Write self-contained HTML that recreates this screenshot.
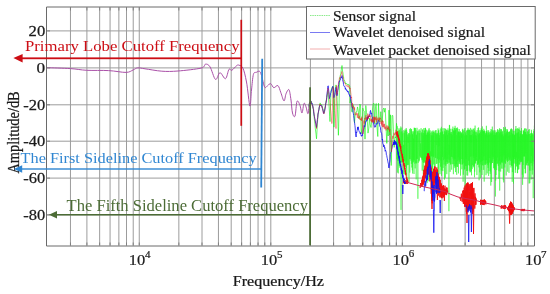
<!DOCTYPE html>
<html><head><meta charset="utf-8"><style>
html,body{margin:0;padding:0;background:#fff;width:550px;height:294px;overflow:hidden}
svg{display:block}
text{font-family:"Liberation Serif","Times New Roman",serif}
</style></head><body>
<svg width="550" height="294" viewBox="0 0 550 294">
<rect x="0" y="0" width="550" height="294" fill="#fff"/>
<g stroke="#9c9c9c" stroke-width="1" fill="none"><line x1="70.46" y1="7" x2="70.46" y2="245.5"/><line x1="86.9" y1="7" x2="86.9" y2="245.5"/><line x1="99.65" y1="7" x2="99.65" y2="245.5"/><line x1="110.07" y1="7" x2="110.07" y2="245.5"/><line x1="118.87" y1="7" x2="118.87" y2="245.5"/><line x1="126.5" y1="7" x2="126.5" y2="245.5"/><line x1="133.23" y1="7" x2="133.23" y2="245.5"/><line x1="139.25" y1="7" x2="139.25" y2="245.5"/><line x1="178.85" y1="7" x2="178.85" y2="245.5"/><line x1="202.01" y1="7" x2="202.01" y2="245.5"/><line x1="218.45" y1="7" x2="218.45" y2="245.5"/><line x1="231.2" y1="7" x2="231.2" y2="245.5"/><line x1="241.62" y1="7" x2="241.62" y2="245.5"/><line x1="250.42" y1="7" x2="250.42" y2="245.5"/><line x1="258.05" y1="7" x2="258.05" y2="245.5"/><line x1="264.78" y1="7" x2="264.78" y2="245.5"/><line x1="270.8" y1="7" x2="270.8" y2="245.5"/><line x1="310.4" y1="7" x2="310.4" y2="245.5"/><line x1="333.57" y1="7" x2="333.57" y2="245.5"/><line x1="350.0" y1="7" x2="350.0" y2="245.5"/><line x1="362.75" y1="7" x2="362.75" y2="245.5"/><line x1="373.17" y1="7" x2="373.17" y2="245.5"/><line x1="381.97" y1="7" x2="381.97" y2="245.5"/><line x1="389.6" y1="7" x2="389.6" y2="245.5"/><line x1="396.33" y1="7" x2="396.33" y2="245.5"/><line x1="402.35" y1="7" x2="402.35" y2="245.5"/><line x1="441.95" y1="7" x2="441.95" y2="245.5"/><line x1="465.12" y1="7" x2="465.12" y2="245.5"/><line x1="481.55" y1="7" x2="481.55" y2="245.5"/><line x1="494.3" y1="7" x2="494.3" y2="245.5"/><line x1="504.72" y1="7" x2="504.72" y2="245.5"/><line x1="513.52" y1="7" x2="513.52" y2="245.5"/><line x1="521.15" y1="7" x2="521.15" y2="245.5"/><line x1="527.88" y1="7" x2="527.88" y2="245.5"/><line x1="47.3" y1="30.9" x2="533.9" y2="30.9"/><line x1="47.3" y1="67.9" x2="533.9" y2="67.9"/><line x1="47.3" y1="104.8" x2="533.9" y2="104.8"/><line x1="47.3" y1="141.2" x2="533.9" y2="141.2"/><line x1="47.3" y1="178.1" x2="533.9" y2="178.1"/><line x1="47.3" y1="214.9" x2="533.9" y2="214.9"/></g>
<g fill="none" stroke-linejoin="round" stroke-width="0.9">
<path d="M309 107.1 L309.3 103.9 L309.6 102.7 L309.9 102.7 L310.2 102.8 L310.5 101.7 L310.8 101.4 L311.1 101 L311.4 103.1 L311.7 102.6 L312 103.4 L312.3 105 L312.6 105.7 L312.9 106.8 L313.2 108.3 L313.5 111.8 L313.8 113.5 L314.1 116.5 L314.4 119.9 L314.7 121.8 L315 124.9 L315.3 128.3 L315.6 131 L315.9 133.1 L316.2 135.7 L316.5 138.8 L316.8 134.4 L317.1 128.8 L317.4 123.4 L317.7 119.3 L318 114.1 L318.3 113 L318.6 111.4 L318.9 109.7 L319.2 107.3 L319.5 106.2 L319.8 103.8 L320.1 102.9 L320.4 103.4 L320.7 104.7 L321 105.1 L321.3 104.5 L321.6 105.2 L321.9 105.6 L322.2 106.5 L322.5 107.6 L322.8 108.6 L323.1 109.4 L323.4 111 L323.7 112.4 L324 113.1 L324.3 111.9 L324.6 109.7 L324.9 107.4 L325.2 106.7 L325.5 105.2 L325.8 102.6 L326.1 100.5 L326.4 99.6 L326.7 97.9 L327 96.1 L327.3 94.9 L327.6 92.6 L327.9 91.1 L328.2 92.4 L328.5 97.8 L328.8 102.9 L329.1 106.4 L329.4 111 L329.7 116.7 L330 121.6 L330.3 111 L330.6 102.6 L330.9 92.5 L331.2 90 L331.5 89.2 L331.8 88 L332.1 87.4 L332.4 87.6 L332.7 86.6 L333 86.4 L333.3 99.3 L333.6 112.7 L333.9 127.2 L334.2 123.1 L334.5 110.5 L334.8 98.3 L335.1 89.9 L335.4 88.3 L335.7 87.2 L336 84.9 L336.3 88.2 L336.6 90.7 L336.9 93.7 L337.2 100.4 L337.5 109.2 L337.8 118.1 L338.1 127 L338.4 135.3 L338.7 126.4 L339 109.3 L339.3 92.1 L339.6 79.3 L339.9 77.7 L340.2 75.7 L340.5 75.1 L340.8 73.9 L341.1 71.2 L341.4 68.9 L341.7 67 L342 65.5 L342.3 67.8 L342.6 71.4 L342.9 72.5 L343.2 74.9 L343.5 76.4 L343.8 79 L344.1 80.6 L344.4 80.3 L344.7 80.7 L345 81.9 L345.3 82.7 L345.6 83.9 L345.9 83.1 L346.2 83.4 L346.5 83.7 L346.8 83.8 L347.1 83.9 L347.4 84.8 L347.7 84.7 L348 84.2 L348.3 84.3 L348.6 84.5 L348.9 84.4 L349.2 85.8 L349.5 85.7 L349.8 86.7 L350 102.9 L350.8 99.5 L351.5 110.8 L352.2 112.1 L353 104.5 L353.8 107.5 L354.5 123 L355.2 114 L356 111.9 L356.8 111.8 L357.5 106.9 L358.2 110.2 L359 118.9 L359.8 104 L360.5 105.1 L361.2 133.7 L362 127.9 L362.8 108.1 L363.5 110.5 L364.2 111.1 L365 139.1 L365.8 105.5 L366.5 112.5 L367.2 117.7 L368 133.1 L368.8 128.1 L369.5 118.2 L370.2 124.9 L371 127.5 L371.8 120.7 L372.5 109 L373.2 103.6 L374 103.3 L374.8 124.1 L375.5 106.6 L376.2 103.5 L377 126.8 L377.8 136.5 L378.5 103.3 L379.2 118.3 L380 122 L380.8 111.7 L381.5 120.2 L382.2 122 L383 109.4 L383.8 108.1 L384.5 112.2 L385.2 108.2 L386 126.3 L386.8 143.4 L387.5 127.8 L388.2 136 L389 110.1 L389.8 135 L390.5 114.8 L391.2 165.5 L392 115.5 L392.8 115.6 L393.5 131.3 L394.2 147.4 L395 136.7 L395.8 138 L396.5 123.3 L397.2 129.1" stroke="#0af50a" stroke-width="0.6"/>
<path d="M396.5 133 L396.7 154.1 L396.9 159.3 L397.1 126.1 L397.3 172.6 L397.5 152.2 L397.7 132.6 L397.9 161 L398.1 133.4 L398.3 173.4 L398.5 130.6 L398.7 158.4 L398.9 128.4 L399.1 142.3 L399.3 165.7 L399.5 130.2 L399.6 164.2 L399.8 167.7 L400 152.1 L400.2 128.4 L400.4 137.7 L400.6 163 L400.8 126.5 L401 209.9 L401.2 131.7 L401.4 161.9 L401.6 129 L401.8 127.6 L402 162.8" stroke="#27f627" stroke-width="0.5"/><path d="M402 162.8 L402.1 131.1 L402.3 160.6 L402.5 134.2 L402.7 160.1 L402.9 132.7 L403.1 147.8 L403.3 161.6 L403.5 144.8 L403.7 174.5 L403.8 130.2 L404 141.3 L404.2 174.4 L404.4 132.8 L404.6 161.1 L404.8 130.9 L405 162.9 L405.1 129.3 L405.3 156.7 L405.5 166.7 L405.7 130.3 L405.9 137.6 L406.1 174.5 L406.2 128 L406.4 168 L406.6 129.7 L406.8 181 L407 131.8 L407.2 165 L407.3 134.6 L407.5 147.5 L407.7 165.2 L407.9 136.8" stroke="#27f627" stroke-width="0.5"/><path d="M407.9 136.8 L408.1 143 L408.2 134.3 L408.4 137.1 L408.6 164.8 L408.8 133.2 L409 181.9 L409.1 133 L409.3 146.6 L409.5 159.1 L409.7 128.9 L409.8 172.6 L410 134.6 L410.2 159 L410.4 155.2 L410.6 128.2 L410.7 146.5 L410.9 160.7 L411.1 129.5 L411.3 132.9 L411.4 163.9 L411.6 129 L411.8 167.5 L412 163.5 L412.1 131.5 L412.3 170.3 L412.5 133.8 L412.6 173.5 L412.8 135.1 L413 162.6 L413.2 131 L413.3 159.8 L413.5 138.6 L413.7 161.8 L413.8 132.3" stroke="#27f627" stroke-width="0.5"/><path d="M413.8 132.3 L414 174 L414.2 127.7 L414.4 160.4 L414.5 128.1 L414.7 151.4 L414.9 163.8 L415 127.9 L415.2 168.4 L415.4 128.2 L415.5 136.1 L415.7 162.9 L415.9 159.8 L416 130.4 L416.2 179.4 L416.4 135.4 L416.5 163.4 L416.7 134.6 L416.9 159 L417 127.8 L417.2 158.9 L417.4 158.5 L417.5 131.2 L417.7 143.5 L417.9 198.8 L418 132.7 L418.2 162.9 L418.3 152.3 L418.5 147.3 L418.7 130.6 L418.8 137.8 L419 161.5 L419.2 129.3 L419.3 160.5 L419.5 155.7 L419.6 137.4 L419.8 133.1 L420 156.2" stroke="#27f627" stroke-width="0.5"/><path d="M420 156.2 L420.1 130.7 L420.3 157 L420.4 157.5 L420.6 143.4 L420.8 157.4 L420.9 130.3 L421.1 128.2 L421.2 142.1 L421.4 149.5 L421.6 158.4 L421.7 132.3 L421.9 160.2 L422 133.2 L422.2 170.7 L422.3 129.8 L422.5 159.9 L422.7 138.2 L422.8 129.3 L423 162.3 L423.1 135.4 L423.3 174.7 L423.5 132.9 L423.6 162.9 L423.8 161.4 L423.9 128 L424.1 161 L424.2 130.8 L424.4 162.7 L424.6 130.3 L424.7 161.8 L424.9 133.2 L425 159.6 L425.2 128 L425.3 167.5 L425.5 127.8 L425.7 177.1 L425.8 129.1 L426 175.3" stroke="#27f627" stroke-width="0.5"/><path d="M426 175.3 L426.1 135.1 L426.3 153.7 L426.4 160.2 L426.6 134.6 L426.7 168.6 L426.9 130 L427.1 183.1 L427.2 133 L427.4 161.4 L427.5 131.5 L427.7 170 L427.8 135.3 L428 164.9 L428.1 133.1 L428.3 181.2 L428.4 131.5 L428.6 158.9 L428.8 129.5 L428.9 157.8 L429.1 128.1 L429.2 163 L429.4 133.8 L429.5 164.7 L429.7 131.6 L429.8 134 L430 164 L430.1 130.3 L430.3 162 L430.4 151.4 L430.6 170 L430.8 160.4 L430.9 132.9 L431.1 156.1 L431.2 135.3 L431.4 166.7 L431.5 135.1 L431.7 131.5 L431.8 156.4 L432 135.5" stroke="#27f627" stroke-width="0.5"/><path d="M432 135.5 L432.1 156.3 L432.3 130.6 L432.4 173.4 L432.6 132.5 L432.7 167.3 L432.9 168.7 L433 135.2 L433.2 135.1 L433.3 157.2 L433.5 132.1 L433.6 164.4 L433.8 130.5 L433.9 156.6 L434.1 141.5 L434.2 131.5 L434.4 137.4 L434.5 148.2 L434.7 166.3 L434.8 132.9 L435 165.4 L435.1 167.8 L435.3 133.4 L435.4 157.7 L435.6 130.5 L435.7 141.5 L435.9 158.1 L436 130 L436.2 133.9 L436.3 164 L436.5 159.1 L436.6 133.5 L436.8 145.1 L436.9 134.9 L437.1 163.6 L437.2 132.9 L437.4 143.6 L437.5 158.8 L437.7 142 L437.8 133.5 L438 168.7" stroke="#27f627" stroke-width="0.5"/><path d="M438 168.7 L438.1 128.5 L438.3 160.3 L438.4 130.8 L438.6 175.2 L438.7 130.2 L438.9 133.8 L439 146.1 L439.2 138 L439.3 162.8 L439.4 135.2 L439.6 159.6 L439.7 135.3 L439.9 132.8 L440 174.2 L440.2 153.7 L440.3 128.5 L440.5 156.1 L440.6 166.7 L440.8 132.4 L440.9 160.5 L441.1 132.4 L441.2 170.4 L441.4 126.8 L441.5 175.8 L441.6 128.6 L441.8 148.5 L441.9 170.4 L442.1 161.4 L442.2 149.3 L442.4 132.1 L442.5 156.9 L442.7 131.3 L442.8 171.1 L443 128.2 L443.1 167.9 L443.2 134.5 L443.4 150.7 L443.5 160.2 L443.7 157 L443.8 134.6 L444 134.1" stroke="#27f627" stroke-width="0.5"/><path d="M444 134.1 L444.1 164.5 L444.3 128.2 L444.4 137.6 L444.5 179.6 L444.7 131.1 L444.8 159.2 L445 132.5 L445.1 157.3 L445.3 128.7 L445.4 177.8 L445.5 135.6 L445.7 165.8 L445.8 128.8 L446 164.2 L446.1 131.7 L446.3 142.9 L446.4 161.8 L446.5 129.9 L446.7 155.6 L446.8 174.2 L447 131.2 L447.1 158.8 L447.3 130 L447.4 163.9 L447.5 134.8 L447.7 159.4 L447.8 162.3 L448 128.4 L448.1 133 L448.2 163.2 L448.4 134.8 L448.5 130.5 L448.7 159.6 L448.8 133 L448.9 211.2 L449.1 144.8 L449.2 154.6 L449.4 124.9 L449.5 162.6 L449.6 125.3 L449.8 159.9 L449.9 129" stroke="#27f627" stroke-width="0.5"/><path d="M449.9 129 L450.1 171.9 L450.2 133.5 L450.3 134.3 L450.5 164.6 L450.6 164 L450.8 132 L450.9 163.9 L451 128.7 L451.2 156.9 L451.3 133.9 L451.5 156.5 L451.6 132.1 L451.7 169.7 L451.9 135.6 L452 149.8 L452.2 134.6 L452.3 145.5 L452.4 164.2 L452.6 128.9 L452.7 157.1 L452.9 126.6 L453 131.4 L453.1 158.6 L453.3 130.3 L453.4 174.2 L453.5 151.4 L453.7 130.8 L453.8 164.1 L454 131.5 L454.1 160.5 L454.2 128.2 L454.4 166.4 L454.5 130.7 L454.7 158.3 L454.8 127.8 L454.9 168.1 L455.1 125.8 L455.2 159 L455.3 130.2 L455.5 172.1 L455.6 129.7 L455.8 166.8 L455.9 145.1" stroke="#27f627" stroke-width="0.5"/><path d="M455.9 145.1 L456 128.4 L456.2 161.5 L456.3 164.2 L456.4 154.3 L456.6 128.1 L456.7 174.8 L456.8 135.2 L457 151.9 L457.1 166.7 L457.3 127.4 L457.4 167 L457.5 144.2 L457.7 128.6 L457.8 161.1 L457.9 133 L458.1 157.2 L458.2 132.2 L458.3 137.8 L458.5 173.4 L458.6 131.5 L458.8 159.8 L458.9 131.6 L459 163.8 L459.2 129 L459.3 159.5 L459.4 132.4 L459.6 161.7 L459.7 143.4 L459.8 135.5 L460 163.7 L460.1 132.3 L460.2 164.2 L460.4 131.2 L460.5 175.6 L460.6 147.2 L460.8 133.7 L460.9 164.5 L461 132.2 L461.2 157.5 L461.3 159 L461.5 133.4 L461.6 138.1 L461.7 132.6 L461.9 169.3 L462 165.1" stroke="#27f627" stroke-width="0.5"/><path d="M462 165.1 L462.1 135.3 L462.3 164.6 L462.4 129.7 L462.5 164.1 L462.7 128.8 L462.8 158.9 L462.9 134.7 L463.1 181.7 L463.2 133.6 L463.3 174.7 L463.5 139.7 L463.6 130.6 L463.7 138.7 L463.9 163.3 L464 149.1 L464.1 129.6 L464.3 133.9 L464.4 154.9 L464.5 169.6 L464.7 135.6 L464.8 169 L464.9 128 L465.1 201.3 L465.2 159.8 L465.3 131.9 L465.5 165.7 L465.6 133.4 L465.7 156.8 L465.8 135.5 L466 159 L466.1 135.2 L466.2 166.1 L466.4 162.6 L466.5 130.5 L466.6 171 L466.8 135.2 L466.9 175.4 L467 134.7 L467.2 130.6 L467.3 171 L467.4 133.8 L467.6 129.8 L467.7 175.6 L467.8 145.3 L468 127.9" stroke="#27f627" stroke-width="0.5"/><path d="M468 127.9 L468.1 139.8 L468.2 165.4 L468.3 129.6 L468.5 136.5 L468.6 160.8 L468.7 142.5 L468.9 129.8 L469 164.8 L469.1 130.1 L469.3 170.8 L469.4 150.4 L469.5 129.7 L469.7 165.9 L469.8 135 L469.9 144.6 L470 172.5 L470.2 130.8 L470.3 171.9 L470.4 127.9 L470.6 156.7 L470.7 135.2 L470.8 135.4 L471 142.8 L471.1 135.2 L471.2 171.1 L471.3 134.8 L471.5 175.3 L471.6 129.9 L471.7 132.5 L471.9 156.5 L472 128.7 L472.1 169.1 L472.3 149.9 L472.4 132.9 L472.5 130.2 L472.6 165.1 L472.8 159.3 L472.9 134.1 L473 147.3 L473.2 167.4 L473.3 135.6 L473.4 166.4 L473.6 129.1 L473.7 156.2 L473.8 131.7 L473.9 157.8" stroke="#27f627" stroke-width="0.5"/><path d="M473.9 157.8 L474.1 128.1 L474.2 165.9 L474.3 130.3 L474.5 177.3 L474.6 131.4 L474.7 171.7 L474.9 162.4 L475 136 L475.1 125.6 L475.2 163.8 L475.4 135.3 L475.5 162.9 L475.6 131.7 L475.8 149.4 L475.9 161 L476 132.8 L476.2 161 L476.3 135.5 L476.4 156.8 L476.5 138.7 L476.7 160.3 L476.8 131.8 L476.9 175.1 L477.1 130.1 L477.2 149 L477.3 158.2 L477.5 160.5 L477.6 164.8 L477.7 133.5 L477.8 160.4 L478 164.9 L478.1 128 L478.2 163.9 L478.4 135.2 L478.5 162.7 L478.6 127.4 L478.8 162.9 L478.9 167.4 L479 133.6 L479.1 180.3 L479.3 163.2 L479.4 132.9 L479.5 159.5 L479.7 134.1 L479.8 172.4 L479.9 130.3" stroke="#27f627" stroke-width="0.5"/><path d="M479.9 130.3 L480.1 162.5 L480.2 130.4 L480.3 164.6 L480.4 177.9 L480.6 159.4 L480.7 132 L480.8 164.6 L481 133.7 L481.1 161.8 L481.2 128.3 L481.4 161.3 L481.5 154.2 L481.6 129.7 L481.7 170 L481.9 133.9 L482 175 L482.1 139.4 L482.3 126.4 L482.4 160.9 L482.5 130 L482.7 165.1 L482.8 154.5 L482.9 131.3 L483 165.5 L483.2 131.9 L483.3 133.3 L483.4 160.3 L483.6 131 L483.7 169.9 L483.8 128.8 L484 156.2 L484.1 131.5 L484.2 181.6 L484.3 130.3 L484.5 134.4 L484.6 164.7 L484.7 131 L484.9 139.6 L485 156.8 L485.1 160.4 L485.3 132.8 L485.4 163.7 L485.5 134.8 L485.6 165 L485.8 159.8 L485.9 133.7" stroke="#27f627" stroke-width="0.5"/><path d="M485.9 133.7 L486 175.2 L486.2 131.3 L486.3 163.7 L486.4 125.8 L486.6 160.2 L486.7 139.7 L486.8 131 L486.9 137.3 L487.1 132.1 L487.2 173.4 L487.3 133.5 L487.5 158.3 L487.6 163.1 L487.7 135.7 L487.9 165.2 L488 130 L488.1 167.9 L488.2 135 L488.4 164.1 L488.5 132.7 L488.6 175.9 L488.8 130.6 L488.9 132.7 L489 171 L489.2 144.3 L489.3 132.1 L489.4 162.6 L489.5 134.8 L489.7 139.4 L489.8 156.9 L489.9 158 L490.1 133.4 L490.2 173.8 L490.3 133.4 L490.5 171.5 L490.6 131.4 L490.7 151.6 L490.8 185.6 L491 129 L491.1 142.9 L491.2 164.3 L491.4 155.7 L491.5 133.5 L491.6 182 L491.8 129.7 L491.9 163" stroke="#27f627" stroke-width="0.5"/><path d="M491.9 163 L492 132.2 L492.1 156.4 L492.3 126.6 L492.4 132.2 L492.5 163 L492.7 133.2 L492.8 160.7 L492.9 130.7 L493.1 158.9 L493.2 130.3 L493.3 157.1 L493.4 147.7 L493.6 134.9 L493.7 153.6 L493.8 168 L494 131.9 L494.1 168.5 L494.2 163.9 L494.4 130.2 L494.5 169.9 L494.6 134.8 L494.7 155.9 L494.9 167.3 L495 134.9 L495.1 164.8 L495.3 132.7 L495.4 196.5 L495.5 134.7 L495.7 180.6 L495.8 130.4 L495.9 133 L496 175 L496.2 132.6 L496.3 160.6 L496.4 155.6 L496.6 132.2 L496.7 170.1 L496.8 133.1 L497 163.6 L497.1 132.3 L497.2 164.2 L497.3 157.5 L497.5 132 L497.6 129 L497.7 157.6 L497.9 130.4 L498 163" stroke="#27f627" stroke-width="0.5"/><path d="M498 163 L498.1 135.3 L498.3 166.1 L498.4 139.5 L498.5 131.8 L498.6 139 L498.8 178.8 L498.9 129.8 L499 171.2 L499.2 155.4 L499.3 133.6 L499.4 160.9 L499.6 128.2 L499.7 190.6 L499.8 132.6 L499.9 136.7 L500.1 163.7 L500.2 129.4 L500.3 164.6 L500.5 131.6 L500.6 153.5 L500.7 171.6 L500.9 129 L501 156.3 L501.1 144.4 L501.2 134.6 L501.4 168.6 L501.5 129.4 L501.6 162.4 L501.8 132.2 L501.9 161.7 L502 131.7 L502.2 163.1 L502.3 135 L502.4 161.4 L502.5 134.9 L502.7 130.8 L502.8 168.7 L502.9 133.9 L503.1 156.5 L503.2 137 L503.3 180.2 L503.5 127.1 L503.6 143.7 L503.7 182.4 L503.8 135.9 L504 154.9" stroke="#27f627" stroke-width="0.5"/><path d="M504 154.9 L504.1 135.4 L504.2 162.1 L504.4 132.2 L504.5 130.5 L504.6 160.5 L504.8 167.5 L504.9 133.4 L505 163.2 L505.1 127.9 L505.3 159.3 L505.4 126.8 L505.5 163.7 L505.7 134.7 L505.8 145.9 L505.9 159.1 L506.1 133.4 L506.2 175.5 L506.3 129.2 L506.4 157.8 L506.6 133.3 L506.7 132.1 L506.8 160.6 L507 155.9 L507.1 130.9 L507.2 160.4 L507.4 129.2 L507.5 162 L507.6 130.6 L507.7 171.7 L507.9 151 L508 133.3 L508.1 140.8 L508.3 154 L508.4 160.8 L508.5 132 L508.7 157.3 L508.8 135.8 L508.9 140.9 L509 172.9 L509.2 131.8 L509.3 159.6 L509.4 131.7 L509.6 133.3 L509.7 160.2 L509.8 131.5 L510 164.9" stroke="#27f627" stroke-width="0.5"/><path d="M510 164.9 L510.1 135 L510.2 157.4 L510.3 158.4 L510.5 129.6 L510.6 160.8 L510.7 142.7 L510.9 128.8 L511 167.5 L511.1 160 L511.3 132.7 L511.4 165.2 L511.5 128.5 L511.6 166 L511.8 163.2 L511.9 160.2 L512 129 L512.2 181.8 L512.3 130.4 L512.4 172.1 L512.6 133.5 L512.7 157.2 L512.8 134.5 L512.9 165.8 L513.1 135.7 L513.2 163 L513.3 134.1 L513.5 183.5 L513.6 130.9 L513.7 162.5 L513.9 134.7 L514 155.7 L514.1 144.6 L514.2 159.2 L514.4 135.3 L514.5 157.2 L514.6 135.1 L514.8 163.6 L514.9 130.7 L515 158.9 L515.2 133.8 L515.3 172.8 L515.4 128.9 L515.5 169.6 L515.7 132.7 L515.8 160.2 L515.9 126" stroke="#27f627" stroke-width="0.5"/><path d="M515.9 126 L516.1 163 L516.2 164.1 L516.3 128.7 L516.5 157.6 L516.6 151.9 L516.7 166.3 L516.8 154.5 L517 133.3 L517.1 166.6 L517.2 133.4 L517.4 173.2 L517.5 128.3 L517.6 173 L517.8 132.4 L517.9 165.3 L518 160.5 L518.1 128.7 L518.3 132.6 L518.4 169.5 L518.5 132.1 L518.7 158.6 L518.8 129 L518.9 169.3 L519.1 127.4 L519.2 164.3 L519.3 136.7 L519.4 161.1 L519.6 137.9 L519.7 129.8 L519.8 164.6 L520 159.5 L520.1 133.7 L520.2 146.6 L520.4 159.7 L520.5 133.6 L520.6 162.3 L520.7 130.8 L520.9 160.3 L521 161.8 L521.1 130.9 L521.3 161.9 L521.4 144.5 L521.5 128.1 L521.7 138.7 L521.8 161.3 L521.9 134.1" stroke="#27f627" stroke-width="0.5"/><path d="M521.9 134.1 L522 160.5 L522.2 134.3 L522.3 174.7 L522.4 135.5 L522.6 184.8 L522.7 134.6 L522.8 134.7 L523 165 L523.1 149.4 L523.2 130.3 L523.3 177.5 L523.5 132.7 L523.6 130.7 L523.7 156.5 L523.9 131.2 L524 156.2 L524.1 131.9 L524.3 156.5 L524.4 128.9 L524.5 156.2 L524.6 143.7 L524.8 128.2 L524.9 168.9 L525 134 L525.2 173.4 L525.3 157.6 L525.4 132.2 L525.6 173.1 L525.7 131.9 L525.8 153.4 L525.9 128.4 L526.1 165.5 L526.2 129.1 L526.3 148.6 L526.5 164.8 L526.6 133.8 L526.7 159.5 L526.9 163.1 L527 135.4 L527.1 160.8 L527.2 135.1 L527.4 134.7 L527.5 162.7 L527.6 131.3 L527.8 162 L527.9 165.4" stroke="#27f627" stroke-width="0.5"/><path d="M527.9 165.4 L528 161.5 L528.2 131.7 L528.3 165.6 L528.4 141.9 L528.5 129.6 L528.7 160.7 L528.8 134.3 L528.9 140 L529.1 183.5 L529.2 134 L529.3 149.3 L529.5 170.6 L529.6 129.2 L529.7 138 L529.8 183.2 L530 162 L530.1 161.2 L530.2 133.8 L530.4 161.8 L530.5 163.3 L530.6 135.9 L530.8 170.6 L530.9 133.1 L531 179.6 L531.1 147.6 L531.3 133.4 L531.4 156 L531.5 129.8 L531.7 163 L531.8 155.7 L531.9 132.9 L532.1 165.7 L532.2 133.3 L532.3 174.6 L532.4 134.5 L532.6 160.9 L532.7 147.5 L532.8 170.2 L533 153.3 L533.1 134.6 L533.2 198.2 L533.4 159.3 L533.5 147.6 L533.6 145.1 L533.7 130.8 L533.9 145" stroke="#27f627" stroke-width="0.5"/><path d="M533.9 145 L534 161.6 L534.1 129 L534.3 164 L534.4 125.6 L534.5 156.1" stroke="#27f627" stroke-width="0.5"/>
<path d="M309 106.2 L309.3 104.3 L309.6 103.5 L309.9 102.3 L310.2 102.1 L310.5 102 L310.8 100.9 L311.1 101.7 L311.4 102.7 L311.7 103.9 L312 103.3 L312.3 104.5 L312.6 104.9 L312.9 107.1 L313.2 108.5 L313.5 109.2 L313.8 113 L314.1 115 L314.4 116.3 L314.7 118.3 L315 119.3 L315.3 120.6 L315.6 123.3 L315.9 123.9 L316.2 125.8 L316.5 127.5 L316.8 124.3 L317.1 122.3 L317.4 119.5 L317.7 117.5 L318 114 L318.3 112.8 L318.6 111 L318.9 109.8 L319.2 107.9 L319.5 106.1 L319.8 106 L320.1 105.1 L320.4 105.3 L320.7 105.5 L321 105.1 L321.3 105.4 L321.6 106 L321.9 106 L322.2 108.2 L322.5 108.6 L322.8 110.5 L323.1 110.6 L323.4 112.8 L323.7 113.6 L324 113 L324.3 111.7 L324.6 111.5 L324.9 108.9 L325.2 108.2 L325.5 105.4 L325.8 103.1 L326.1 102.5 L326.4 101.1 L326.7 97.5 L327 94 L327.3 91.5 L327.6 89.6 L327.9 86.1 L328.2 85.8 L328.5 88.9 L328.8 91.5 L329.1 94.3 L329.4 98.6 L329.7 97.4 L330 96.8 L330.3 95.2 L330.6 93.2 L330.9 92.9 L331.2 90.7 L331.5 90.8 L331.8 88.8 L332.1 88.5 L332.4 87.2 L332.7 86.4 L333 86.9 L333.3 90.2 L333.6 92.8 L333.9 97.6 L334.2 96.4 L334.5 95.3 L334.8 94.7 L335.1 92.8 L335.4 90.2 L335.7 90.5 L336 87.4 L336.3 90.2 L336.6 93.9 L336.9 95.8 L337.2 95.1 L337.5 92.4 L337.8 90.2 L338.1 88.9 L338.4 86 L338.7 84.5 L339 81.7 L339.3 81.3 L339.6 81.7 L339.9 80.2 L340.2 79.7 L340.5 79.7 L340.8 77.8 L341.1 77.1 L341.4 78 L341.7 77.2 L342 75.5 L342.3 76.9 L342.6 79.5 L342.9 81.4 L343.2 81.4 L343.5 84.4 L343.8 85.8 L344.1 86.4 L344.4 86.5 L344.7 86.4 L345 86.8 L345.3 89.1 L345.6 88.2 L345.9 89.6 L346.2 89.2 L346.5 90.7 L346.8 90.6 L347.1 90.4 L347.4 90.6 L347.7 92.1 L348 91.1 L348.3 92.1 L348.6 93.3 L348.9 94.5 L349.2 94.6 L349.5 94.6 L349.8 96.4 L350.1 95.5 L350.4 96.4 L350.7 99 L351 101.2 L351.3 101.5 L351.6 103.5 L351.9 105.5 L352.2 107.5 L352.5 107.1 L352.8 109.1 L353.1 112.2 L353.4 113.7 L353.7 115.6 L354 118.7 L354.3 121.3 L354.6 122.7 L354.9 125.3 L355.2 128 L355.5 133.5 L355.8 135 L356.1 137 L356.4 132.1 L356.7 132.8 L357 130.7 L357.3 130.1 L357.6 127.1 L357.9 129.5 L358.2 126.8 L358.5 129.1 L358.8 130.4 L359.1 131.5 L359.4 131.6 L359.7 132 L360 133 L360.3 134 L360.6 132.6 L360.9 134.4 L361.2 135.8 L361.5 136.3 L361.8 135.3 L362.1 136 L362.4 135.1 L362.7 132.9 L363 131.8 L363.3 129.8 L363.6 129.3 L363.9 128.4 L364.2 125.5 L364.5 126.6 L364.8 126.9 L365.1 125.5 L365.4 123.9 L365.7 121.7 L366 122 L366.3 120.7 L366.6 119.7 L366.9 120.8 L367.2 117.6 L367.5 119.6 L367.8 116.6 L368.1 118.3 L368.4 117.4 L368.7 116.1 L369 116.9 L369.3 115.3 L369.6 114.8 L369.9 115 L370.2 111.7 L370.5 110.4 L370.8 112.1 L371.1 114 L371.4 112.9 L371.7 113.4 L372 116.7 L372.3 117.1 L372.6 118 L372.9 121.2 L373.2 120.9 L373.5 123.7 L373.8 123.7 L374.1 124.9 L374.4 126.5 L374.7 127.2 L375 127.4 L375.3 125.9 L375.6 126.5 L375.9 124.8 L376.2 123.4 L376.5 124 L376.8 124.4 L377.1 123.7 L377.4 122.8 L377.7 123.4 L378 120.7 L378.3 120.1 L378.6 120.8 L378.9 121.3 L379.2 122.3 L379.5 124.2 L379.8 126.1 L380.1 126.8 L380.4 127.3 L380.7 130.3 L381 132.6 L381.3 132.6 L381.6 133.2 L381.9 135.1 L382.2 140.1 L382.5 139.1 L382.8 143.4 L383.1 144.5 L383.4 144.4 L383.7 147 L384 145.1 L384.3 146.3 L384.6 148.3 L384.9 147.6 L385.2 151.3 L385.5 150.1 L385.8 150.8 L386.1 151.6 L386.4 154.9 L386.7 155.4 L387 157.2 L387.3 158.4 L387.6 160.1 L387.9 161.8 L388.2 163.1 L388.5 164.2 L388.8 168 L389.1 167.7 L389.4 163.8 L389.7 162.2 L390 159.8 L390.3 154.5 L390.6 153.4 L390.9 152.2 L391.2 151.9 L391.5 149.8 L391.8 148.7 L392.1 147.7 L392.4 144.9 L392.7 144.9 L393 145.2 L393.3 142.1 L393.6 145 L393.9 144.2 L394.2 142 L394.5 143 L394.8 143.5 L395.1 144.5 L395.4 142.4 L395.7 143 L396 144 L396.3 144.2 L396.6 146.4 L396.9 146.3 L397.2 148.6 L397.5 148.6 L397.8 152.1 L398.1 154.1 L398.4 155.1 L398.7 157 L399 156.7 L399.3 160.6 L399.6 162.4 L399.9 163.9 L400.2 163.8 L400.5 166.2 L400.8 166 L401.1 169.6 L401.4 170.9 L401.7 170.5 L402 171.1 L402.3 173.8 L402.6 175.7 L402.9 178 L403.2 178.5 L403.5 178.2 L403.8 182.3" stroke="#1414f0" stroke-width="0.8"/>
<path d="M309 105.5 L309.3 104.8 L309.6 102 L309.9 102 L310.2 102.7 L310.5 101.1 L310.8 100.9 L311.1 101.7 L311.4 102.9 L311.7 104 L312 104.5 L312.3 105.8 L312.6 105.7 L312.9 107.4 L313.2 107.3 L313.5 109.5 L313.8 112.1 L314.1 113.6 L314.4 116.5 L314.7 118.3 L315 120 L315.3 122.3 L315.6 123.3 L315.9 124.4 L316.2 126.2 L316.5 128.7 L316.8 126 L317.1 121.8 L317.4 120.3 L317.7 117.7 L318 114 L318.3 112.6 L318.6 110.4 L318.9 109.6 L319.2 108 L319.5 106.7 L319.8 104.1 L320.1 105.1 L320.4 104.6 L320.7 104.9 L321 106.1 L321.3 106.1 L321.6 106.4 L321.9 107.2 L322.2 106.8 L322.5 108.8 L322.8 109.6 L323.1 111.8 L323.4 112.7 L323.7 112.5 L324 113.9 L324.3 111.6 L324.6 110.5 L324.9 109.6 L325.2 108.1 L325.5 105.6 L325.8 103.6 L326.1 101.6 L326.4 100.8 L326.7 99.3 L327 95.3 L327.3 94.2 L327.6 90.2 L327.9 88.2 L328.2 88.7 L328.5 91.6 L328.8 92.8 L329.1 94.8 L329.4 97.3 L329.7 99.2 L330 103.8 L330.3 106 L330.6 110.2 L330.9 113 L331.2 116.3 L331.5 120.4 L331.8 123.6 L332.1 122 L332.4 110.6 L332.7 99.5 L333 87.3 L333.3 89.2 L333.6 91.9 L333.9 93.7 L334.2 97.5 L334.5 103.2 L334.8 107.8 L335.1 113.4 L335.4 117.3 L335.7 123.4 L336 128.6 L336.3 107.8 L336.6 85.6 L336.9 92.4 L337.2 94.3 L337.5 90.7 L337.8 90 L338.1 87.5 L338.4 83.8 L338.7 81.7 L339 80.5 L339.3 78.8 L339.6 77.7 L339.9 78.4 L340.2 76.8 L340.5 76.8 L340.8 74.8 L341.1 74.5 L341.4 74.2 L341.7 71.9 L342 71.4 L342.3 73.9 L342.6 75.8 L342.9 77.4 L343.2 77.2 L343.5 79.5 L343.8 81.5 L344.1 82.2 L344.4 83.1 L344.7 82.7 L345 83 L345.3 83.7 L345.6 84.1 L345.9 85.7 L346.2 85.9 L346.5 86.1 L346.8 85.3 L347.1 85.4 L347.4 85.5 L347.7 86.9 L348 87.2 L348.3 87.2 L348.6 85.6 L348.9 85.6 L349.2 87.9 L349.5 87.6 L349.8 88.9 L350.1 87.9 L350.4 89.5 L350.7 92 L351 94.2 L351.3 98.2 L351.6 96.9 L351.9 104.5 L352.2 106.9 L352.5 103.1 L352.8 105.8 L353.1 108.6 L353.4 107.1 L353.7 106.4 L354 107 L354.3 110.2 L354.6 107.5 L354.9 114.5 L355.2 114.3 L355.5 113.9 L355.8 115.3 L356.1 114 L356.4 112.7 L356.7 114.4 L357 114 L357.3 117.7 L357.6 116.7 L357.9 113.2 L358.2 118.1 L358.5 117.2 L358.8 117.7 L359.1 118.3 L359.4 115.7 L359.7 119.5 L360 119.7 L360.3 118.8 L360.6 119.8 L360.9 120.2 L361.2 118.1 L361.5 120.8 L361.8 116.7 L362.1 120.4 L362.4 125.8 L362.7 127.1 L363 134 L363.3 131.8 L363.6 127.5 L363.9 120.5 L364.2 123.6 L364.5 120.9 L364.8 117.9 L365.1 119.4 L365.4 118 L365.7 117 L366 115.2 L366.3 119.6 L366.6 117.3 L366.9 117.9 L367.2 118.4 L367.5 120.1 L367.8 113.6 L368.1 117.9 L368.4 118.9 L368.7 115.6 L369 116.8 L369.3 114.5 L369.6 115.7 L369.9 117.1 L370.2 115.3 L370.5 116.5 L370.8 121.2 L371.1 118.9 L371.4 118.8 L371.7 122.1 L372 119.5 L372.3 122.6 L372.6 120.3 L372.9 121.6 L373.2 116.6 L373.5 120.4 L373.8 121.7 L374.1 116.8 L374.4 122.9 L374.7 117.4 L375 119.6 L375.3 117.4 L375.6 119.6 L375.9 120.3 L376.2 116.4 L376.5 122.5 L376.8 118.7 L377.1 119.4 L377.4 119.8 L377.7 118.1 L378 117.5 L378.3 120.4 L378.6 120 L378.9 118.4 L379.2 121.7 L379.5 119.1 L379.8 117.4 L380.1 119.3 L380.4 118.2 L380.7 119.3 L381 123.8 L381.3 121.5 L381.6 125.4 L381.9 124.6 L382.2 120.1 L382.5 126.9 L382.8 126.9 L383.1 121.1 L383.4 127.2 L383.7 124.2 L384 124.8 L384.3 128.6 L384.6 123.8 L384.9 126.1 L385.2 129.3 L385.5 128.1 L385.8 126.6 L386.1 130.5 L386.4 129.6 L386.7 128.4 L387 125.3 L387.3 129.2 L387.6 128.3 L387.9 126.8 L388.2 126.1 L388.5 129.7 L388.8 127.2 L389.1 129.7 L389.4 131.6 L389.7 130.4 L390 129.3 L390.3 136 L390.6 139.2 L390.9 146.1 L391.2 148.8 L391.5 151.8 L391.8 149.1 L392.1 145.1 L392.4 139.1 L392.7 135.8 L393 138.7 L393.3 137.6 L393.6 136.1 L393.9 133.8 L394.2 132.8 L394.5 135.3 L394.8 134.1 L395.1 133.8 L395.4 133.7 L395.7 134.2 L396 129.8 L396.3 130.7 L396.6 136.3 L396.9 136.3 L397.2 136.5 L397.5 131 L397.8 131.6 L398.1 133.9 L398.4 136.5 L398.7 139.4 L399 137.2 L399.3 141.8 L399.6 140 L399.9 141.6 L400.2 147.2 L400.5 147.9 L400.8 149.9 L401.1 149.6 L401.4 151.8 L401.7 151.5 L402 153.9 L402.3 158.2 L402.6 160.4 L402.9 156.5 L403.2 158.3 L403.5 164.7 L403.8 164.9 L404.1 167.4 L404.4 165 L404.7 168 L405 168.3 L405.3 173.7 L405.6 172.1 L405.9 175.6" stroke="#f01010" stroke-opacity="0.5" stroke-width="0.8"/>
<path d="M420 186.9 L420.2 187.8 L420.3 185.6 L420.5 184.5 L420.6 183.1 L420.8 186.2 L421 185.2 L421.1 185.6 L421.3 185.8 L421.4 185.6 L421.6 185 L421.8 179.7 L421.9 183.3 L422.1 187 L422.2 179.9 L422.4 180.4 L422.6 177 L422.7 184.6 L422.9 175.7 L423 185.3 L423.2 184.4 L423.4 183.2 L423.5 173.2 L423.7 183.5 L423.8 169.8 L424 171.6 L424.2 176 L424.3 182.4 L424.5 168.5 L424.6 173.8 L424.8 166.4 L425 165.8 L425.1 178.3 L425.3 165.3 L425.4 173.3 L425.6 177.7 L425.8 167.4 L425.9 164.5 L426.1 160.5 L426.2 174.5 L426.4 160.9 L426.6 158.3 L426.7 171.1 L426.9 156.5 L427 169 L427.2 164.5 L427.4 159.3 L427.5 153.5 L427.7 170.6 L427.8 161.4 L428 171.6 L428.2 153.9 L428.3 154.9 L428.5 174 L428.6 153.4 L428.8 157.2 L429 171.2 L429.1 159.3 L429.3 155.9 L429.4 176.6 L429.6 157.9 L429.8 178.6 L429.9 181.4 L430.1 160.4 L430.2 162.4 L430.4 166.3 L430.6 177.4 L430.7 165.8 L430.9 165.9 L431 185.8 L431.2 193.8 L431.4 167.5 L431.5 168.9 L431.7 186.1 L431.8 201 L432 179.4 L432.2 203.4 L432.3 171.7 L432.5 200.7 L432.6 172.5 L432.8 172 L433 192.5 L433.1 193.8 L433.3 193.7 L433.4 174.7 L433.6 168.8 L433.8 190.8 L433.9 178.5 L434.1 168.8 L434.2 186.1 L434.4 179.4 L434.6 181.8 L434.7 166.3 L434.9 182.8 L435 166.9 L435.2 179.4 L435.4 181.6 L435.5 180.6 L435.7 169.9 L435.8 183.5 L436 175 L436.2 171.6 L436.3 183.3 L436.5 181.5 L436.6 185.4 L436.8 167.5 L437 188.3 L437.1 178.7 L437.3 169.3 L437.4 190.1 L437.6 170.2 L437.8 186.4 L437.9 181.2 L438.1 173.5 L438.2 185.1 L438.4 176.7 L438.6 175.6 L438.7 195.6 L438.9 178.5 L439 189.5 L439.2 188.5 L439.4 176.9 L439.5 189.7 L439.7 190.9 L439.8 197.3 L440 195.2 L440.2 190.8 L440.3 179.7 L440.5 188.1 L440.6 185 L440.8 196.8 L441 183.1 L441.1 185.1 L441.3 198 L441.4 183.9 L441.6 194.2 L441.8 197.9 L441.9 185.4 L442.1 198.3 L442.2 196 L442.4 186.2 L442.6 188.3 L442.7 188.9 L442.9 196 L443 188.2 L443.2 186.1 L443.4 197.4 L443.5 185.2 L443.7 194.8 L443.8 196.4 L444 195.8 L444.2 191.9 L444.3 196.1 L444.5 188.4 L444.6 194.8 L444.8 188.2 L445 185.7 L445.1 194.4 L445.3 191.2 L445.4 191.5 L445.6 191.6 L445.8 189 L445.9 194.9 L446.1 194.5 L446.2 187.8 L446.4 190.9 L446.6 195.1 L446.7 187.6 L446.9 193.4 L447 187.7 L447.2 189.8 L447.4 191.8 L447.5 191.3 L447.7 190.7 L447.8 192.1" stroke="#f01010"/><path d="M460 197.6 L460.1 199.1 L460.3 197.9 L460.4 197 L460.6 197.3 L460.7 198.5 L460.8 200.9 L461 197.2 L461.1 197.9 L461.3 194.4 L461.4 193.7 L461.5 197.7 L461.7 196.2 L461.8 197.5 L462 197 L462.1 197 L462.2 201.8 L462.4 195.7 L462.5 196.2 L462.7 190.7 L462.8 192.4 L462.9 192.3 L463.1 192 L463.2 202.8 L463.4 203.9 L463.5 190.1 L463.6 195.3 L463.8 195.4 L463.9 203.5 L464.1 202 L464.2 187.6 L464.3 196.9 L464.5 197.8 L464.6 206.7 L464.8 191.4 L464.9 203.6 L465 185.6 L465.2 191.3 L465.3 206.9 L465.5 194.1 L465.6 190.5 L465.7 195.6 L465.9 204.4 L466 184.4 L466.2 192.3 L466.3 211.7 L466.4 202.6 L466.6 183.4 L466.7 213.8 L466.9 194.7 L467 198.7 L467.1 199.6 L467.3 205.1 L467.4 183 L467.6 211.4 L467.7 190.8 L467.8 182.3 L468 207 L468.1 210.2 L468.3 183.3 L468.4 210.2 L468.5 201.2 L468.7 199.9 L468.8 201.9 L469 185.5 L469.1 188.2 L469.2 196.8 L469.4 208.8 L469.5 191.6 L469.7 187.1 L469.8 184.1 L469.9 200.8 L470.1 208.6 L470.2 202.4 L470.4 192.4 L470.5 195.4 L470.6 188.3 L470.8 184 L470.9 208.7 L471.1 183.3 L471.2 209.8 L471.3 195.3 L471.5 183.1 L471.6 200.4 L471.8 198 L471.9 207 L472 189.4 L472.2 184.8 L472.3 212.4 L472.5 182.2 L472.6 213.9 L472.7 207.5 L472.9 197 L473 198.6 L473.2 188.3 L473.3 211.5 L473.4 194.7 L473.6 196.1 L473.7 207.2 L473.9 187.9 L474 192.1 L474.1 195 L474.3 195.3 L474.4 199.3 L474.6 199.4 L474.7 201.7 L474.8 208.6 L475 193.4 L475.1 200.7 L475.3 196.9 L475.4 196.9 L475.5 204.9 L475.7 197.7 L475.8 200 L476 204.7 L476.1 198.6 L476.2 199.2 L476.4 200.2" stroke="#f01010"/><path d="M501 208.6 L501.2 206.2 L501.4 208.2 L501.6 205.3 L501.8 208.4 L502 205.8 L502.2 207.7 L502.4 206.5 L502.6 207.7 L502.8 205.8 L503 208.4 L503.2 205.9 L503.4 208.4 L503.6 205.7 L503.8 208.4 L504 205.9 L504.2 208.7 L504.4 205.7 L504.6 208.8 L504.8 205 L505 208.7 L505.2 205.4 L505.4 208.5 L505.6 205.7 L505.8 207.8 L506 206.4" stroke="#f01010"/><path d="M507.5 208.5 L507.6 208.5 L507.6 208.3 L507.7 208.7 L507.7 208 L507.8 208.9 L507.9 208 L507.9 209.1 L508 207.5 L508 209.3 L508.1 207.7 L508.2 209.6 L508.2 207.2 L508.3 210.1 L508.3 207.5 L508.4 209.9 L508.5 206.7 L508.5 210.2 L508.6 206.5 L508.6 210.6 L508.7 207 L508.8 210.2 L508.8 206.8 L508.9 210.6 L508.9 206.6 L509 210.8 L509.1 206.6 L509.1 210.6 L509.2 205.6 L509.2 211.9 L509.3 206.2 L509.4 211.1 L509.4 204.8 L509.5 211.2 L509.5 205.9 L509.6 212.1 L509.7 205.4 L509.7 212.9 L509.8 204.7 L509.8 212.6 L509.9 204.8 L510 211.8 L510 203.4 L510.1 212.7 L510.1 203.1 L510.2 212.3 L510.3 204.1 L510.3 213.5 L510.4 204.8 L510.4 212.5 L510.5 202 L510.6 215 L510.6 201.5 L510.7 214.2 L510.7 202.2 L510.8 214.6 L510.9 203 L510.9 213.5 L511 202.1 L511 214.5 L511.1 202.1 L511.2 213.2 L511.2 203.8 L511.3 213.2 L511.3 202.3 L511.4 214.1 L511.5 204.1 L511.5 214.7 L511.6 203.6 L511.6 213.2 L511.7 204.2 L511.8 212.2 L511.8 205.3 L511.9 212.2 L511.9 202.9 L512 213.9 L512.1 204.3 L512.1 213.8 L512.2 204.5 L512.2 213 L512.3 205.8 L512.4 212.3 L512.4 204.8 L512.5 212 L512.5 204.9 L512.6 211.7 L512.7 205.1 L512.7 211.3 L512.8 205.6 L512.8 211.5 L512.9 205.8 L513 210.7 L513 206.5 L513.1 211.4 L513.1 206.7 L513.2 210.9 L513.3 205.7 L513.3 210.8 L513.4 206.3 L513.4 210.8 L513.5 206.3 L513.6 210.2 L513.6 207.1 L513.7 210.3 L513.7 207.6 L513.8 209.8 L513.9 207.6 L513.9 209.7 L514 207.5 L514 209.6 L514.1 207.8 L514.2 209.3 L514.2 208.2 L514.3 209 L514.3 208.2 L514.4 208.8 L514.5 208.4 L514.5 208.6" stroke="#f01010"/><path d="M521 210.5 L521.2 209.7 L521.4 210.8 L521.6 209.2 L521.8 210.9 L522 209.4 L522.2 211.1 L522.4 209.1 L522.6 210.8 L522.8 208.9 L523 210.4 L523.2 209.5 L523.4 210.8 L523.6 209.2 L523.8 211.2 L524 209.1 L524.2 210.3 L524.4 208.9 L524.6 210.7 L524.8 209.6" stroke="#f01010"/><path d="M480.5 204.6 L480.6 199.8 L480.8 204.8 L480.9 199.9 L481.1 203.3 L481.2 200.2 L481.4 203.8 L481.5 200.5 L481.7 204.1 L481.8 201 L482 203.3 L482.1 201.1 L482.3 202.7 L482.4 200 L482.6 204.5 L482.7 200.3 L482.9 204.9 L483 199.8 L483.2 204.3 L483.3 200.6 L483.5 204.9 L483.6 200.5 L483.8 204.8 L483.9 200.7 L484.1 205.1 L484.2 199.6 L484.4 203.1 L484.5 199.5 L484.7 203 L484.8 200.4 L485 203.6 L485.1 200.5 L485.3 203.6 L485.4 200.9 L485.6 203.7 L485.7 201.1 L485.9 204.7" stroke="#f01010"/><path d="M403.5 183 L403.7 180.5 L403.9 183.1 L404.1 180 L404.3 183.8 L404.5 180.5 L404.7 183.7 L404.9 180.1 L405.1 183.9 L405.3 180.9 L405.5 183.3 L405.7 181.5 L405.9 183 L406.1 181.1 L406.3 183.4 L406.5 181.6 L406.7 183.6 L406.9 181.5 L407.1 183.1 L407.3 180.8 L407.5 183.7 L407.7 180.6 L407.9 182.6" stroke="#f01010"/><path d="M396 132.5 L396.1 132.8 L396.3 132.2 L396.4 134.7 L396.6 132.8 L396.7 132.8 L396.9 133.7 L397 134.8 L397.2 131.6 L397.3 135.8 L397.5 133.7 L397.6 134.8 L397.8 136.9 L397.9 136.1 L398.1 137.6 L398.2 134.8 L398.4 138.9 L398.5 137.4 L398.7 138.2 L398.8 140.3 L399 139.1 L399.1 143.4 L399.3 138.9 L399.4 143.5 L399.6 142 L399.7 146.1 L399.9 145 L400 143.9 L400.2 146.7 L400.3 145.8 L400.5 148.2 L400.6 148.9 L400.8 146 L400.9 151.1 L401.1 150.5 L401.2 153.3 L401.4 152.9 L401.5 152.5 L401.7 153.1 L401.8 154.5 L402 155.1 L402.1 154.7 L402.3 157.6 L402.4 154.1 L402.6 158.2 L402.7 158.7 L402.9 160.2 L403 162.2 L403.2 159.8 L403.3 159.4 L403.5 162.4 L403.6 163.7 L403.8 164.6 L403.9 165.5 L404.1 163 L404.2 165.3 L404.4 165.7 L404.5 169.1 L404.7 165.4 L404.8 169.4 L405 168.2 L405.1 170.6 L405.3 172.3 L405.4 170.2 L405.6 174.7 L405.7 172.7 L405.9 173.4 L406 174 L406.2 176.6 L406.3 176.6 L406.5 179 L406.6 177.5 L406.8 177.3 L406.9 180.5 L407.1 178.8 L407.2 183.4 L407.4 181.4 L407.5 179.8 L407.7 183 L407.8 182.3 L408 183.2" stroke="#f01010"/><path d="M431.6 190 L432 209 L432.4 190" stroke="#f01010"/><path d="M466.6 200 L467 223 L467.4 200" stroke="#f01010"/><path d="M473.1 205 L473.5 234 L473.9 205" stroke="#f01010"/><path d="M437 190 L437.4 200 L437.8 190" stroke="#f01010"/><path d="M509.2 212 L509.6 223.6 L510 212" stroke="#f01010"/><path d="M444 192 L444.4 201 L444.8 192" stroke="#f01010"/>
<path d="M424 191.1 L424.2 191.1 L424.5 184.9 L424.8 183.7 L425 184.4 L425.2 181.1 L425.5 186.5 L425.8 186.2 L426 181.3 L426.2 175.3 L426.5 181.3 L426.8 177.8 L427 180.1 L427.2 169 L427.5 179.6 L427.8 167 L428 175 L428.2 166.4 L428.5 169.7 L428.8 165.9 L429 160.8 L429.2 167.3 L429.5 159.1 L429.8 164.6 L430 170 L430.2 176.9 L430.5 164.7 L430.8 179.5 L431 175.5 L431.2 171 L431.5 182.8 L431.8 189.8 L432 181.4 L432.2 182.5 L432.5 197 L432.8 185.3 L433 200.6 L433.2 189.6 L433.5 187.1 L433.8 190.4 L434 210.2 L434.2 185.2 L434.5 201.5 L434.8 198.4 L435 197.5 L435.2 189.1 L435.5 185.7 L435.8 176.4 L436 192.3 L436.2 176.6 L436.5 193.8 L436.8 174.1 L437 172.1 L437.2 181.3 L437.5 176 L437.8 192.8 L438 185 L438.2 179.7 L438.5 186 L438.8 185.8 L439 192.1 L439.2 193.1 L439.5 188.5 L439.8 189.5 L440 192.5" stroke="#1414f0" stroke-width="0.8"/><path d="M466 205.2 L466.4 207 L466.7 207 L467.1 208.1 L467.4 208.5 L467.8 208.7 L468.1 212.3 L468.5 206.3 L468.8 207.6 L469.2 210.6 L469.5 204.3 L469.9 208.1 L470.2 208.5 L470.6 212.4 L470.9 205.4 L471.3 208.5 L471.6 207.4 L472 210" stroke="#1414f0" stroke-width="0.8"/><path d="M394 142.3 L394.1 143 L394.3 143.9 L394.4 140.2 L394.6 144.6 L394.7 141.5 L394.9 143.4 L395 142.5 L395.2 143.5 L395.3 141.8 L395.5 143.9 L395.6 141.5 L395.8 141.5 L395.9 143.4 L396.1 144.3 L396.2 144.7 L396.4 143.4 L396.5 142.5 L396.7 147.3 L396.8 143.9 L397 149.1 L397.1 146.6 L397.3 150.2 L397.4 147.8 L397.6 148.6 L397.7 151.8 L397.9 151.2 L398 153.9 L398.2 153.9 L398.3 155.5 L398.5 152.3 L398.6 156.5 L398.8 156.8 L398.9 158 L399.1 158.5 L399.2 155.8 L399.4 160.8 L399.5 157.5 L399.7 162.8 L399.8 162 L400 160.9 L400.1 162.5 L400.3 164.1 L400.4 166 L400.6 164 L400.7 164.5 L400.9 165.8 L401 167 L401.2 167.4 L401.3 170.2 L401.5 168.2 L401.6 171.3 L401.8 169.8 L401.9 173.8 L402.1 170.5 L402.2 173.7 L402.4 175.7 L402.5 176.4 L402.7 174.6 L402.8 177.6 L403 175.3 L403.1 177.8 L403.3 178.7 L403.4 178.5 L403.6 180.4 L403.7 181.6 L403.9 178.1 L404 181.5 L404.2 179.3 L404.3 179 L404.5 183.9 L404.6 183 L404.8 179.8 L404.9 184 L405.1 183.7 L405.2 181.5 L405.4 181.4" stroke="#1414f0" stroke-width="0.8"/><path d="M433.4 210 L433.8 232.7 L434.2 210" stroke="#1414f0" stroke-width="0.8"/><path d="M468.3 215 L468.7 242 L469.1 215" stroke="#1414f0" stroke-width="0.8"/><path d="M471 210 L471.4 232 L471.8 210" stroke="#1414f0" stroke-width="0.8"/><path d="M439.8 200 L440.2 213 L440.6 200" stroke="#1414f0" stroke-width="0.8"/><path d="M402.4 185 L402.8 194 L403.2 185" stroke="#1414f0" stroke-width="0.8"/>
<path d="M404 180 L406 182 L420.4 186 L445 191.5 L450 194 L458 197 L476 200.5 L483 202.5 L495 205 L503 207 L511 208.5 L523 210 L535 211" stroke="#d02a55" stroke-width="1"/>
<path d="M47 67.7 C50.9 67.8 63.9 68.2 70.5 68.6 C77.1 69 80.5 70 86.8 70.3 C93.1 70.6 102.1 70.2 108.6 70.6 C115.1 70.9 121.9 72.5 126 72.4 C130.1 72.3 131.1 70.8 133 70 C134.9 69.2 135.7 68.1 137.7 67.9 C139.7 67.7 141 68.2 145 68.8 C149 69.3 156.3 70.8 161.8 71.2 C167.3 71.6 171.5 71.5 178 71 C184.5 70.5 196.4 69.2 201 68.1 C205.6 67 204 64.4 205.5 64.2 C207 64 208.3 64.3 210 66.8 C211.7 69.3 213.8 78.4 215.5 79.4 C217.2 80.4 218.3 72.8 220 72.7 C221.7 72.6 224 79.3 225.5 78.7 C227 78.1 227.9 70.7 229 69.3 C230.1 67.9 230.5 70.9 231.8 70.3 C233.1 69.7 235.5 66.4 236.7 65.6 C237.9 64.8 237.9 64.8 239 65.2 C240.1 65.7 241.8 65.5 243 68.3 C244.2 71.1 245.3 75.7 246.5 82 C247.7 88.3 249.1 104.7 249.9 106 C250.7 107.3 250.9 95.3 251.5 90 C252.1 84.7 252.6 77.4 253.4 74.4 C254.2 71.5 255.4 72.8 256.4 72.3 C257.4 71.8 258.6 70.8 259.5 71.3 C260.4 71.8 260.6 72.8 261.5 75.4 C262.4 78 263.6 85.3 264.6 87 C265.6 88.7 266.7 86.2 267.7 85.6 C268.7 85 269.7 83.2 270.7 83.6 C271.7 83.9 272.6 87.4 273.8 87.7 C275 88 276.7 84.8 277.9 85.6 C279.1 86.4 279.9 90.2 280.9 92.8 C281.9 95.3 283.1 100.7 284 100.9 C284.9 101.1 285.2 95.7 286 93.8 C286.8 91.9 288.2 88.7 289 89.7 C289.8 90.7 290.4 96.1 291 100 C291.6 103.9 291.8 110.3 292.5 113 C293.2 115.7 294.2 117.9 295 116 C295.8 114.1 296.2 103.2 297 101.4 C297.8 99.6 299.2 103.5 300 105.4 C300.8 107.3 301.3 113.3 302 113 C302.7 112.7 303.3 104.4 304 103.4 C304.7 102.4 305.3 105.1 306 106.8 C306.7 108.5 307.4 114.3 308 113.6 C308.6 112.9 309 104.7 309.5 102.7 C310 100.7 310.8 101.6 311 101.4" stroke="#aa50a8" stroke-width="1"/>
</g>
<g stroke="#808080" stroke-width="1"><line x1="70.46" y1="242.5" x2="70.46" y2="245.5"/><line x1="70.46" y1="7.5" x2="70.46" y2="10.5"/><line x1="86.9" y1="242.5" x2="86.9" y2="245.5"/><line x1="86.9" y1="7.5" x2="86.9" y2="10.5"/><line x1="99.65" y1="242.5" x2="99.65" y2="245.5"/><line x1="99.65" y1="7.5" x2="99.65" y2="10.5"/><line x1="110.07" y1="242.5" x2="110.07" y2="245.5"/><line x1="110.07" y1="7.5" x2="110.07" y2="10.5"/><line x1="118.87" y1="242.5" x2="118.87" y2="245.5"/><line x1="118.87" y1="7.5" x2="118.87" y2="10.5"/><line x1="126.5" y1="242.5" x2="126.5" y2="245.5"/><line x1="126.5" y1="7.5" x2="126.5" y2="10.5"/><line x1="133.23" y1="242.5" x2="133.23" y2="245.5"/><line x1="133.23" y1="7.5" x2="133.23" y2="10.5"/><line x1="139.25" y1="242.5" x2="139.25" y2="245.5"/><line x1="139.25" y1="7.5" x2="139.25" y2="10.5"/><line x1="178.85" y1="242.5" x2="178.85" y2="245.5"/><line x1="178.85" y1="7.5" x2="178.85" y2="10.5"/><line x1="202.01" y1="242.5" x2="202.01" y2="245.5"/><line x1="202.01" y1="7.5" x2="202.01" y2="10.5"/><line x1="218.45" y1="242.5" x2="218.45" y2="245.5"/><line x1="218.45" y1="7.5" x2="218.45" y2="10.5"/><line x1="231.2" y1="242.5" x2="231.2" y2="245.5"/><line x1="231.2" y1="7.5" x2="231.2" y2="10.5"/><line x1="241.62" y1="242.5" x2="241.62" y2="245.5"/><line x1="241.62" y1="7.5" x2="241.62" y2="10.5"/><line x1="250.42" y1="242.5" x2="250.42" y2="245.5"/><line x1="250.42" y1="7.5" x2="250.42" y2="10.5"/><line x1="258.05" y1="242.5" x2="258.05" y2="245.5"/><line x1="258.05" y1="7.5" x2="258.05" y2="10.5"/><line x1="264.78" y1="242.5" x2="264.78" y2="245.5"/><line x1="264.78" y1="7.5" x2="264.78" y2="10.5"/><line x1="270.8" y1="242.5" x2="270.8" y2="245.5"/><line x1="270.8" y1="7.5" x2="270.8" y2="10.5"/><line x1="310.4" y1="242.5" x2="310.4" y2="245.5"/><line x1="310.4" y1="7.5" x2="310.4" y2="10.5"/><line x1="333.57" y1="242.5" x2="333.57" y2="245.5"/><line x1="333.57" y1="7.5" x2="333.57" y2="10.5"/><line x1="350.0" y1="242.5" x2="350.0" y2="245.5"/><line x1="350.0" y1="7.5" x2="350.0" y2="10.5"/><line x1="362.75" y1="242.5" x2="362.75" y2="245.5"/><line x1="362.75" y1="7.5" x2="362.75" y2="10.5"/><line x1="373.17" y1="242.5" x2="373.17" y2="245.5"/><line x1="373.17" y1="7.5" x2="373.17" y2="10.5"/><line x1="381.97" y1="242.5" x2="381.97" y2="245.5"/><line x1="381.97" y1="7.5" x2="381.97" y2="10.5"/><line x1="389.6" y1="242.5" x2="389.6" y2="245.5"/><line x1="389.6" y1="7.5" x2="389.6" y2="10.5"/><line x1="396.33" y1="242.5" x2="396.33" y2="245.5"/><line x1="396.33" y1="7.5" x2="396.33" y2="10.5"/><line x1="402.35" y1="242.5" x2="402.35" y2="245.5"/><line x1="402.35" y1="7.5" x2="402.35" y2="10.5"/><line x1="441.95" y1="242.5" x2="441.95" y2="245.5"/><line x1="441.95" y1="7.5" x2="441.95" y2="10.5"/><line x1="465.12" y1="242.5" x2="465.12" y2="245.5"/><line x1="465.12" y1="7.5" x2="465.12" y2="10.5"/><line x1="481.55" y1="242.5" x2="481.55" y2="245.5"/><line x1="481.55" y1="7.5" x2="481.55" y2="10.5"/><line x1="494.3" y1="242.5" x2="494.3" y2="245.5"/><line x1="494.3" y1="7.5" x2="494.3" y2="10.5"/><line x1="504.72" y1="242.5" x2="504.72" y2="245.5"/><line x1="504.72" y1="7.5" x2="504.72" y2="10.5"/><line x1="513.52" y1="242.5" x2="513.52" y2="245.5"/><line x1="513.52" y1="7.5" x2="513.52" y2="10.5"/><line x1="521.15" y1="242.5" x2="521.15" y2="245.5"/><line x1="521.15" y1="7.5" x2="521.15" y2="10.5"/><line x1="527.88" y1="242.5" x2="527.88" y2="245.5"/><line x1="527.88" y1="7.5" x2="527.88" y2="10.5"/><line x1="47" y1="30.9" x2="50" y2="30.9"/><line x1="531" y1="30.9" x2="534" y2="30.9"/><line x1="47" y1="67.9" x2="50" y2="67.9"/><line x1="531" y1="67.9" x2="534" y2="67.9"/><line x1="47" y1="104.8" x2="50" y2="104.8"/><line x1="531" y1="104.8" x2="534" y2="104.8"/><line x1="47" y1="141.2" x2="50" y2="141.2"/><line x1="531" y1="141.2" x2="534" y2="141.2"/><line x1="47" y1="178.1" x2="50" y2="178.1"/><line x1="531" y1="178.1" x2="534" y2="178.1"/><line x1="47" y1="214.9" x2="50" y2="214.9"/><line x1="531" y1="214.9" x2="534" y2="214.9"/></g>
<path d="M46.5 7 H534.5 V246 H46.5 Z" fill="none" stroke="#6a6a6a" stroke-width="1"/>
<!-- legend -->
<rect x="306.5" y="6.5" width="228.7" height="52.5" fill="#fff" stroke="#6a6a6a" stroke-width="1"/>
<line x1="310" y1="15.5" x2="330" y2="15.5" stroke="#7ee87e" stroke-width="0.9" stroke-dasharray="1.5 0.8"/>
<line x1="310" y1="32.5" x2="330" y2="32.5" stroke="#6b6bf0" stroke-width="0.9"/>
<line x1="310" y1="49" x2="330" y2="49" stroke="#f09a9a" stroke-width="0.8"/>
<g font-size="14.3" fill="#1a1a1a" stroke="#1a1a1a" stroke-width="0.2">
<text x="333" y="20.5" textLength="83" lengthAdjust="spacingAndGlyphs">Sensor signal</text>
<text x="333" y="37.4" textLength="152" lengthAdjust="spacingAndGlyphs">Wavelet denoised signal</text>
<text x="333" y="54.6" textLength="198" lengthAdjust="spacingAndGlyphs">Wavelet packet denoised signal</text>
</g>
<!-- annotations -->
<g fill="#cc0d14" stroke="none">
<rect x="20" y="57.4" width="221.5" height="1.8"/>
<rect x="240.4" y="19.8" width="1.7" height="106"/>
<path d="M13.4 58.1 L22.6 53.9 L22.6 62.5 Z"/>
<text x="25" y="50.5" font-size="15.3" textLength="214.5" lengthAdjust="spacingAndGlyphs">Primary Lobe Cutoff Frequency</text>
</g>
<text transform="translate(19.2,173.6) scale(1.12,1) rotate(-90)" font-size="14.4" fill="#1a1a1a" stroke="#1a1a1a" stroke-width="0.25">Amplitude/dB</text>
<g fill="#2f86d2" stroke="none">
<rect x="20" y="168.3" width="241.5" height="1.4"/>
<path d="M261.3 58.8 H263.1 L262.1 187.5 H260.3 Z"/>
<path d="M13.8 169 L22.2 165.2 L22.2 172.7 Z"/>
<text x="20.6" y="162.6" font-size="15.5" textLength="236" lengthAdjust="spacingAndGlyphs">The First Sideline Cutoff Frequency</text>
</g>
<g fill="#4c6c36" stroke="none">
<rect x="55" y="214" width="255.8" height="1.5"/>
<rect x="309.2" y="87.3" width="1.8" height="158"/>
<path d="M48.9 214.8 L57 211 L57 218.6 Z"/>
<text x="66.6" y="211" font-size="16" textLength="241.4" lengthAdjust="spacingAndGlyphs">The Fifth Sideline Cutoff Frequency</text>
</g>
<g font-size="14.6" fill="#1a1a1a" text-anchor="end" stroke="#1a1a1a" stroke-width="0.25">
<text transform="translate(45.2,35.7) scale(1.14,1)">20</text>
<text transform="translate(45.2,72.5) scale(1.18,1)">0</text>
<text transform="translate(45.2,109.5) scale(1.13,1)">-20</text>
<text transform="translate(45.2,146.3) scale(1.13,1)">-40</text>
<text transform="translate(45.2,183.2) scale(1.13,1)">-60</text>
<text transform="translate(45.2,220) scale(1.13,1)">-80</text>
</g>
<g font-size="15" fill="#1a1a1a" stroke="#1a1a1a" stroke-width="0.2">
<text transform="translate(128.8,264.5) scale(1.1,1)">10</text><text transform="translate(145,257.5) scale(1.1,1)" font-size="10">4</text>
<text transform="translate(260.7,264.5) scale(1.1,1)">10</text><text transform="translate(276.9,257.6) scale(1.1,1)" font-size="10">5</text>
<text transform="translate(392.6,264.5) scale(1.1,1)">10</text><text transform="translate(408.8,257.4) scale(1.1,1)" font-size="10">6</text>
<text transform="translate(524.9,264.5) scale(1.1,1)">10</text><text transform="translate(541.1,257.6) scale(1.1,1)" font-size="10">7</text>
</g>
<text transform="translate(232.8,285.5) scale(1.15,1)" font-size="14" fill="#1a1a1a" stroke="#1a1a1a" stroke-width="0.25">Frequency/Hz</text>
</svg>
</body></html>
